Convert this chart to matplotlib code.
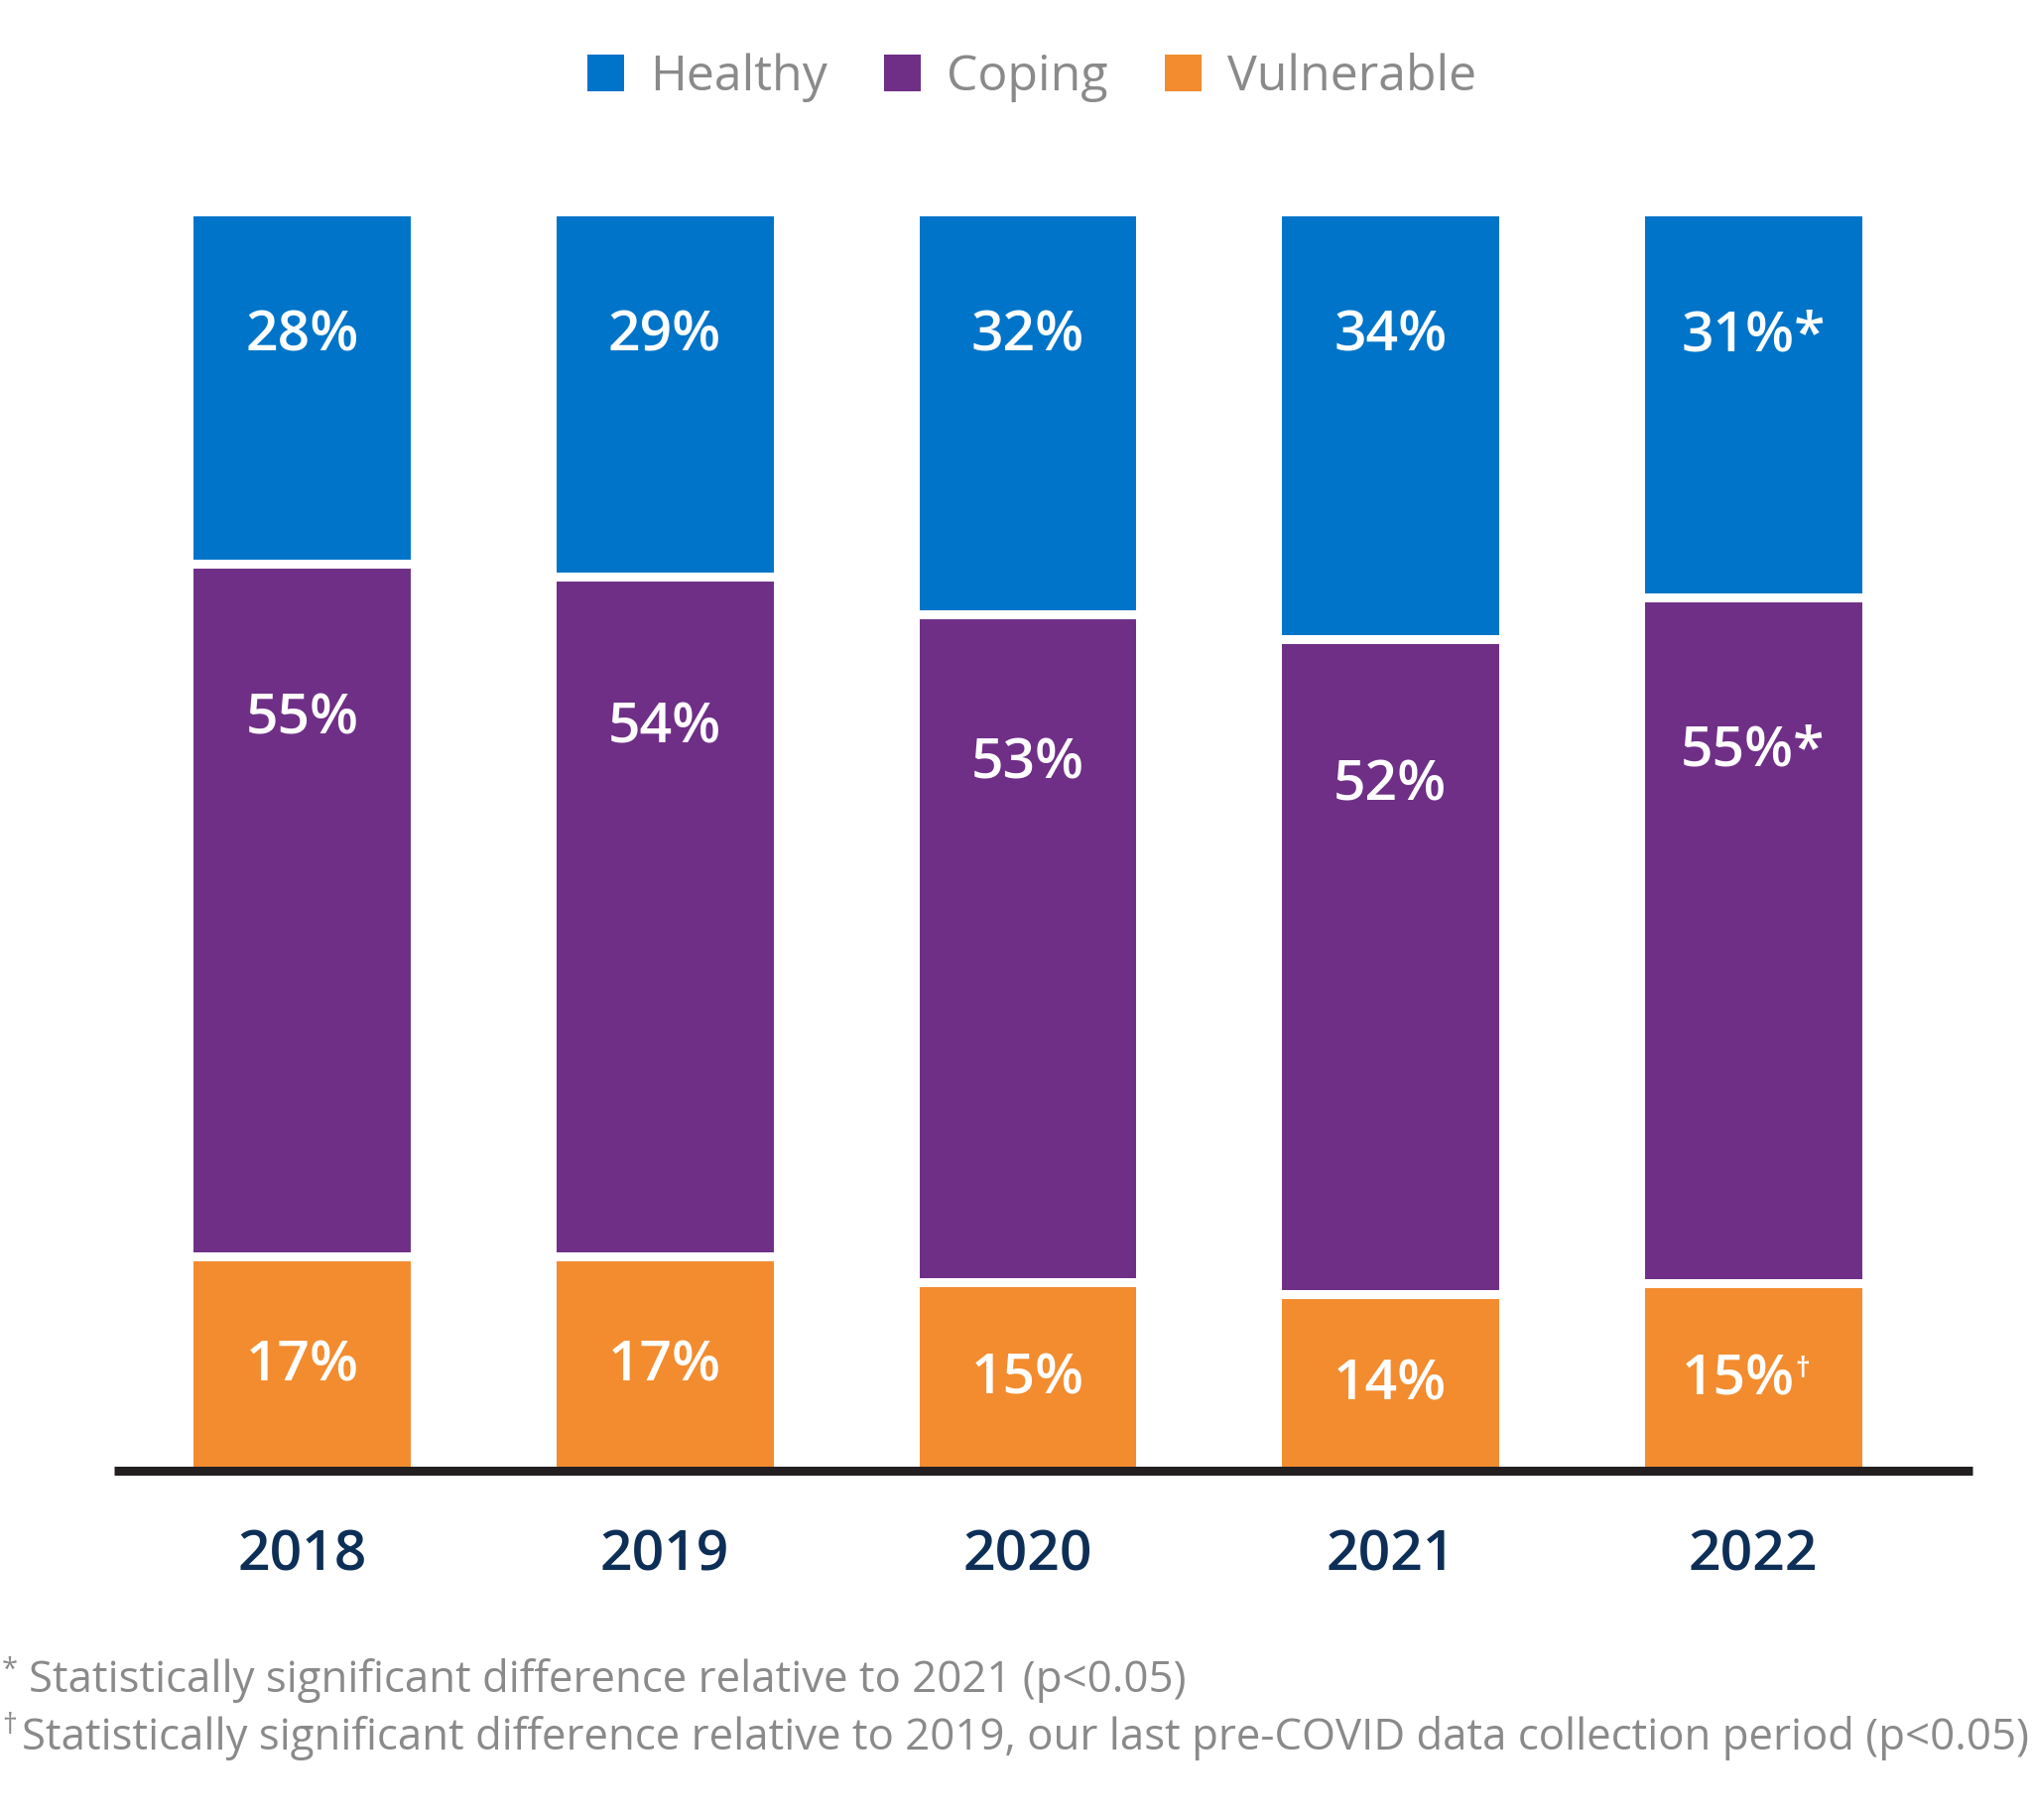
import numpy as np
import matplotlib
matplotlib.use("Agg")
import matplotlib.pyplot as plt

plt.rcParams['font.family'] = ['Open Sans', 'DejaVu Sans']

# data
years = ["2018", "2019", "2020", "2021", "2022"]
healthy = [28, 29, 32, 34, 31]
coping = [55, 54, 53, 52, 55]
vulnerable = [17, 17, 15, 14, 15]
healthy_marks = ["", "", "", "", "*"]
coping_marks = ["", "", "", "", "*"]
vulnerable_marks = ["", "", "", "", "\u2020"]

notes = [
    ("*", "Statistically significant difference relative to 2021 (p<0.05)"),
    ("\u2020", "Statistically significant difference relative to 2019, our last pre-COVID data collection period (p<0.05)"),
]

c_blue = "#0074c8"
c_purple = "#6f2f87"
c_orange = "#f28c2f"
c_year = "#0d2f57"
c_grey = "#8a8a8a"

# bars are drawn as shares of 100 (2022 rounds to 101)
h = np.array(healthy, float)
c = np.array(coping, float)
v = np.array(vulnerable, float)
tot = h + c + v
h_s, c_s, v_s = h / tot * 100, c / tot * 100, v / tot * 100

fig = plt.figure(figsize=(20.48, 18.34), dpi=100)
ax = fig.add_axes([115 / 2048, 352 / 1834, (1988 - 115) / 2048, 0.6922])

x = np.arange(len(years))
w = 0.623
lw = 6.5
b1 = ax.bar(x, v_s, w, color=c_orange, edgecolor="white", linewidth=lw, label="Vulnerable")
b2 = ax.bar(x, c_s, w, bottom=v_s, color=c_purple, edgecolor="white", linewidth=lw, label="Coping")
b3 = ax.bar(x, h_s, w, bottom=v_s + c_s, color=c_blue, edgecolor="white", linewidth=lw, label="Healthy")

lab_kw = dict(ha="center", va="center", color="white", fontsize=41, fontweight="semibold")
for i in range(len(years)):
    top = v_s[i] + c_s[i] + h_s[i]
    ax.text(x[i], top - 10, f"{healthy[i]}%{healthy_marks[i]}", **lab_kw)
    ax.text(x[i], v_s[i] + c_s[i] - 0.225 * c_s[i], f"{coping[i]}%{coping_marks[i]}", **lab_kw)
    if vulnerable_marks[i]:
        t = ax.text(x[i] - 0.04, v_s[i] / 2 - 0.3, f"{vulnerable[i]}%", **lab_kw)
        ax.annotate(vulnerable_marks[i], xy=(1, 0.95), xycoords=t, ha="left", va="top",
                    color="white", fontsize=21, fontweight="semibold")
    else:
        ax.text(x[i], v_s[i] / 2 - 0.3, f"{vulnerable[i]}%", **lab_kw)

ax.axhline(0, color="#231f20", linewidth=6.5, zorder=5, clip_on=False, solid_capstyle="butt")
ax.set_xlim(-0.518, 4.605)
ax.set_ylim(0, 100)
ax.set_xticks(x)
ax.set_xticklabels(years, fontsize=41, fontweight="semibold", color=c_year)
ax.tick_params(axis="x", length=0, pad=42)
ax.set_yticks([])
for s in ax.spines.values():
    s.set_visible(False)

fig.legend(handles=[b3, b2, b1], labels=["Healthy", "Coping", "Vulnerable"],
           loc="center", bbox_to_anchor=(1040 / 2048, 1 - 78 / 1834), ncol=3,
           frameon=False, fontsize=36, labelcolor=c_grey,
           handlelength=0.74, handleheight=0.76, handletextpad=0.52, columnspacing=1.15)
# legend patches without the white edge
for p in fig.legends[0].get_patches():
    p.set_linewidth(0)

ys = [1 - 1694 / 1834, 1 - 1751 / 1834]
xs = [29 / 2048, 22 / 2048]
for (mark, txt), yy, xx in zip(notes, ys, xs):
    fig.text(0.001, yy + 0.006, mark, fontsize=21, color=c_grey, ha="left", va="center")
    fig.text(xx, yy, txt, fontsize=31.5, color=c_grey, ha="left", va="center")

fig.savefig("out.png", dpi=100)
